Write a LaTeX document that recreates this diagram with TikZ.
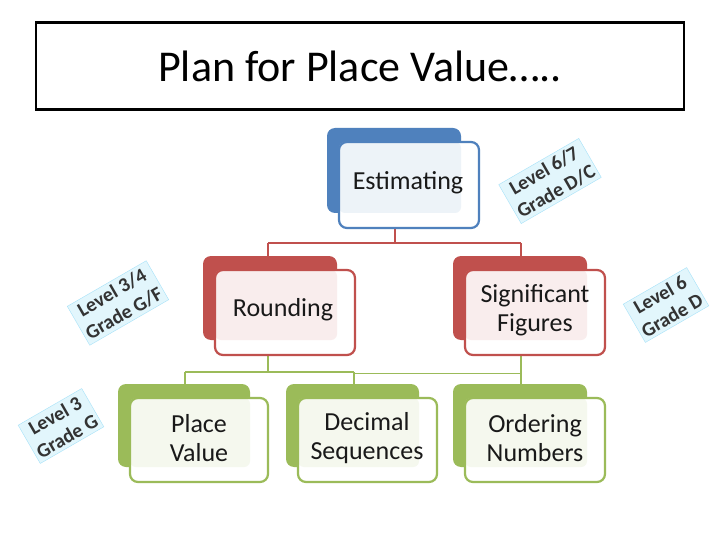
\documentclass[tikz,border=0pt]{standalone}
\usepackage{fontspec}
\setmainfont{Carlito}
\definecolor{cblue}{HTML}{4F81BD}
\definecolor{cred}{HTML}{C0504D}
\definecolor{cgreen}{HTML}{9BBB59}
\definecolor{lbl}{HTML}{E2F6FC}
\tikzset{
 lab/.style={font=\fontsize{20}{24}\selectfont\bfseries, align=center, fill=lbl, draw=cyan!35, inner sep=3pt, line width=0.4pt, text=black!80},
 txt/.style={font=\fontsize{26}{29}\selectfont, align=center, text=black!90},
 conn/.style={line width=2pt}
}
\newcommand{\mybox}[6]{% x1 y1 x2 y2 color name
 \fill[#5, rounded corners=8pt] (#1,#2) rectangle (#3-18,#4-15);
 \fill[white, rounded corners=8pt] (#1+12,#2+14) rectangle (#3,#4);
 \fill[#5!10, rounded corners=6pt] (#1+12,#2+14) rectangle (#3-18,#4-15);
 \draw[#5, line width=2.2pt, rounded corners=8pt] (#1+12,#2+14) rectangle (#3,#4);
 \coordinate (#6) at ({(#1+#3)/2+3},{(#2+#4)/2+3});
}
\begin{document}
\begin{tikzpicture}[x=1pt,y=-1pt]
\useasboundingbox (0,0) rectangle (720,540);
\fill[white] (0,0) rectangle (720,540);
\node[draw=black, line width=2.5pt, minimum width=648pt, minimum height=87pt, font=\fontsize{44}{44}\selectfont] (title) at (360,66) {Plan for Place Value\dots..};
% connectors
\coordinate (e0) at (395,228); \coordinate (e1) at (395,243);
\coordinate (rl) at (268,243); \coordinate (rr) at (521,243);
\draw[cred,conn] (e0) -- (e1) (rl) -- (rr) (rl) -- (268,257) (rr) -- (521,257);
\draw[cgreen,conn] (268,355) -- (268,372) (185,372) -- (354,372) (185,372) -- (185,384) (354,372) -- (354,384) (521,355) -- (521,384);
\draw[cgreen,line width=1pt] (354,373) -- (521,373);
\mybox{327}{128}{479}{228}{cblue}{est}
\mybox{203}{256}{355}{355}{cred}{rou}
\mybox{453}{256}{605}{355}{cred}{sig}
\mybox{118}{384}{268}{482}{cgreen}{pv}
\mybox{286}{384}{437}{482}{cgreen}{dec}
\mybox{453}{384}{605}{482}{cgreen}{ord}
\node[txt] (nest) at (408,183) {Estimating};
\node[txt] (nrou) at (283,310) {Rounding};
\node[txt] (nsig) at (535,310) {Significant\\Figures};
\node[txt] (npv) at (199,438) {Place\\Value};
\node[txt] (ndec) at (367,438) {Decimal\\Sequences};
\node[txt] (nord) at (535,438) {Ordering\\Numbers};
\node[lab, rotate=30] (l1) at (550,181) {Level 6/7\\Grade D/C};
\node[lab, rotate=30] (l2) at (118,303) {Level 3/4\\Grade G/F};
\node[lab, rotate=30] (l3) at (666,305) {Level 6\\Grade D};
\node[lab, rotate=30] (l4) at (61,426) {Level 3\\Grade G};
\end{tikzpicture}
\end{document}
